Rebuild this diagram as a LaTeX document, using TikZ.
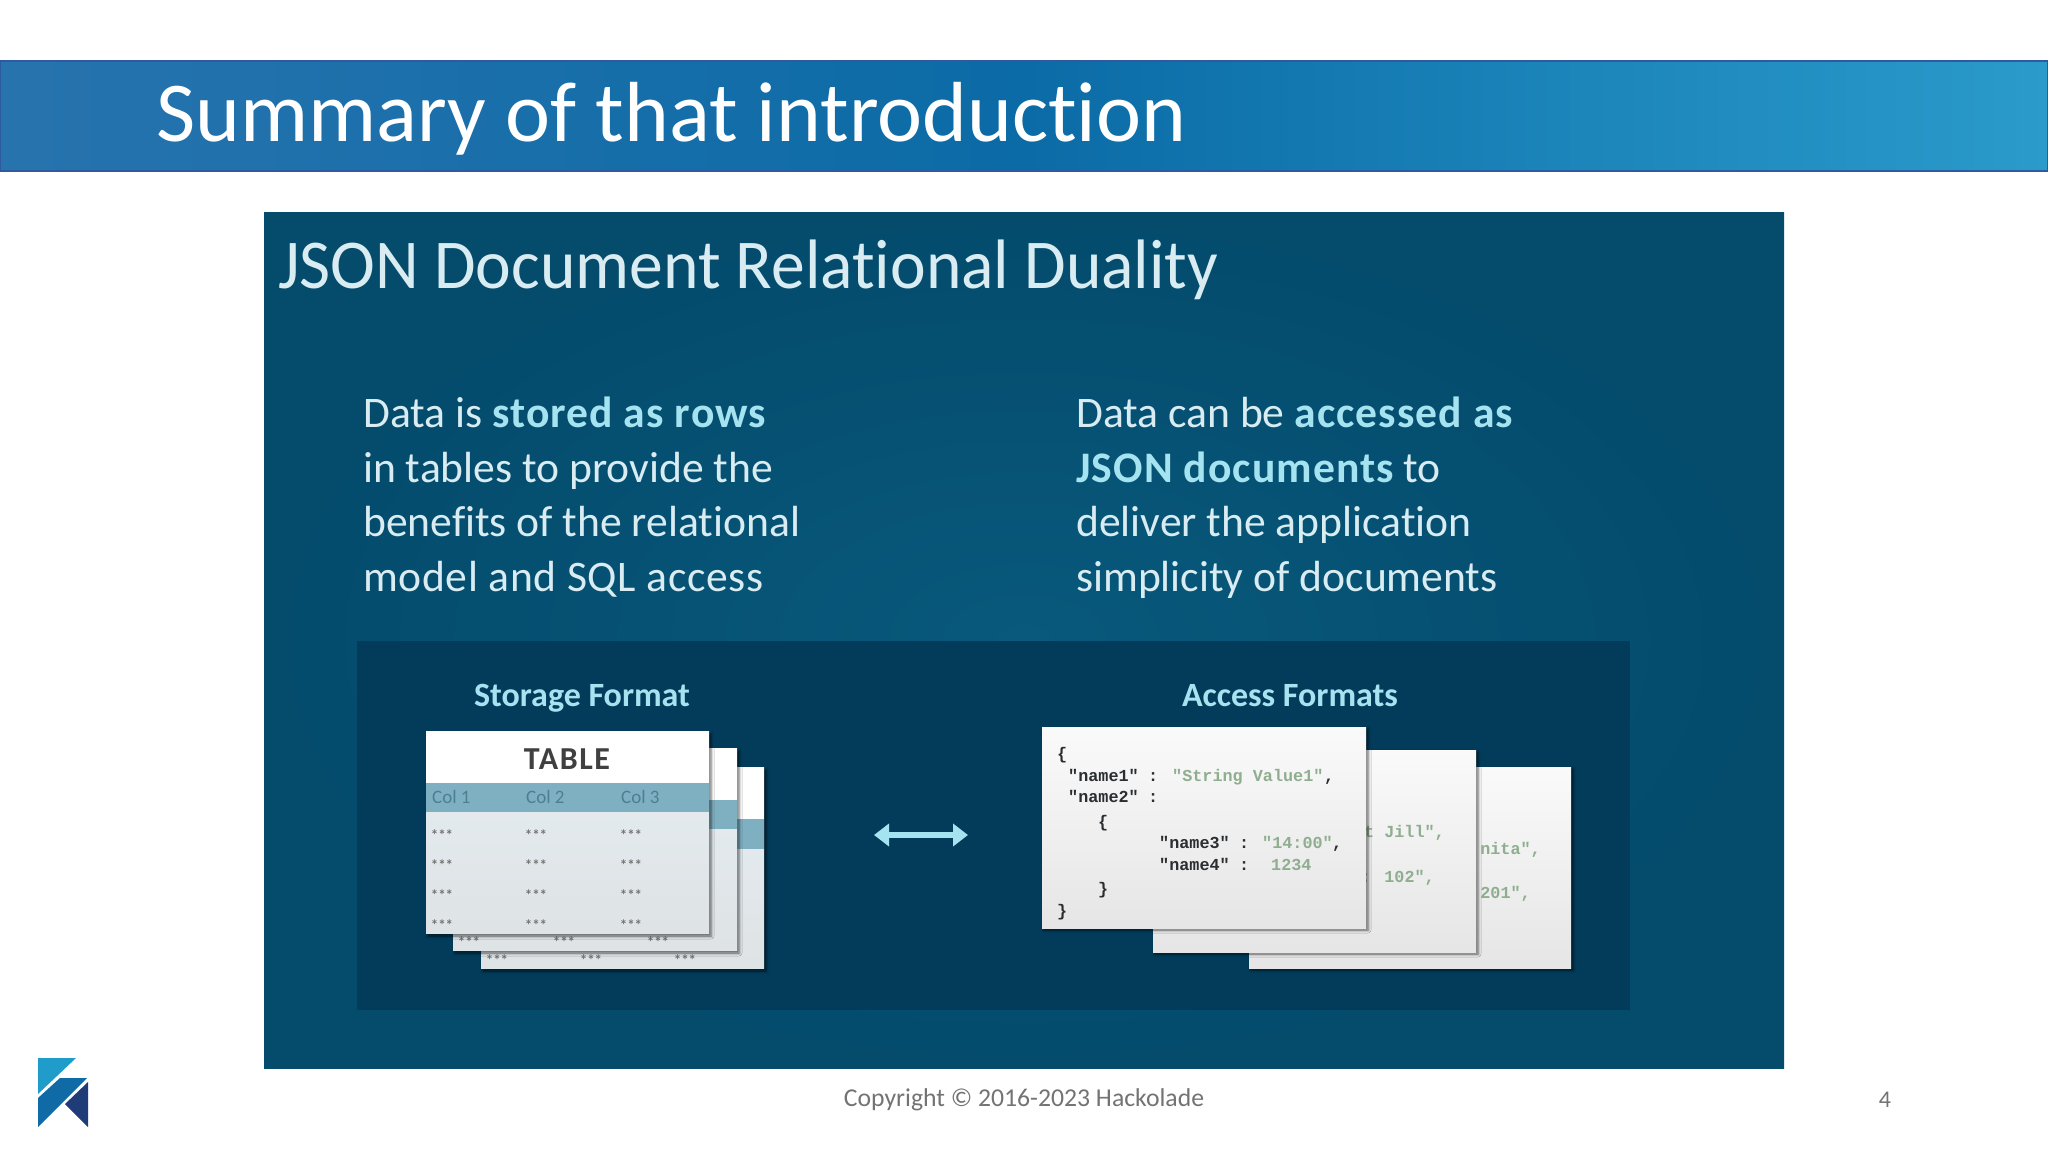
\documentclass[tikz,border=0pt]{standalone}
\usepackage{fontspec}
\setmainfont{Carlito}[Ligatures=NoCommon]
\newfontfamily\monof{Liberation Mono}
\newfontfamily\headf{Carlito}[Ligatures=NoCommon,FakeStretch=0.965]
\usetikzlibrary{arrows.meta,shadows.blur}
\definecolor{cyanT}{HTML}{A6E3F0}
\definecolor{bodyT}{HTML}{D8ECF2}
\definecolor{bandB}{HTML}{7FB0C2}
\definecolor{colT}{HTML}{4A8094}
\definecolor{codeK}{HTML}{2A2E30}
\definecolor{codeV}{HTML}{8FAE90}
\definecolor{tblTop}{HTML}{E6EEF2}
\definecolor{tblBot}{HTML}{DEE3E5}
\definecolor{banL}{HTML}{2773AE}
\definecolor{banM}{HTML}{0B6BA6}
\definecolor{banR}{HTML}{2A9BCB}
\definecolor{banE}{HTML}{2F5AA0}
\definecolor{phE}{HTML}{044B6C}
\definecolor{phC}{HTML}{08597C}
\definecolor{phD}{HTML}{033C5A}
\definecolor{lg1}{HTML}{1F9CC9}
\definecolor{lg2}{HTML}{0F6AA6}
\definecolor{lg3}{HTML}{1F3B78}
\newcommand{\hl}[1]{\textcolor{cyanT}{\bfseries\addfontfeature{LetterSpace=2.5}#1}}
\tikzset{
  x=1pt,y=-1pt,
  lbl/.style={inner sep=0pt,anchor=base west},
  body/.style={lbl,text=bodyT,font=\fontsize{43.6}{50}\selectfont},
  hd/.style={text=cyanT,inner sep=0pt,anchor=base,font=\bfseries\fontsize{34}{38}\selectfont},
  dots/.style={inner sep=0pt,yshift=-3pt,text=black!55,font=\bfseries\fontsize{15}{15}\selectfont},
  coll/.style={inner sep=0pt,anchor=base west,text=colT,font=\fontsize{19}{20}\selectfont},
  ck/.style={lbl,text=codeK,font=\monof\bfseries\fontsize{16.8}{18}\selectfont},
  cv/.style={lbl,text=codeV,font=\monof\bfseries\fontsize{16.8}{18}\selectfont},
  cvr/.style={cv,anchor=base east},
  card/.style={top color=black!2,bottom color=black!10,draw=none,blur shadow={shadow xshift=2pt,shadow yshift=-2pt,shadow blur steps=4,shadow opacity=60,shadow blur radius=3pt}},
  tblcard/.style={top color=tblTop,bottom color=tblBot,draw=none,blur shadow={shadow xshift=2pt,shadow yshift=-3pt,shadow blur steps=4,shadow opacity=60,shadow blur radius=3pt}},
}
\newcommand{\tabsheet}[6]{% x1 y1 x2 y2 bandtop bandbottom
  \fill[tblcard] (#1,#2) rectangle (#3,#4);
  \fill[white] (#1,#2) rectangle (#3,#5);
  \fill[bandB] (#1,#5) rectangle (#3,#6);
}
\begin{document}
\begin{tikzpicture}
\useasboundingbox (0,0) rectangle (2048,1152);
\fill[white] (0,0) rectangle (2048,1152);
% banner
\shade[left color=banL,right color=banR,middle color=banM] (0,61) rectangle (2048,171);
\draw[draw=banE,line width=1.5pt] (0,61) rectangle (2048,171);
\node[lbl,text=white,font=\fontsize{85.3}{90}\selectfont] (title) at (156,141) {Summary of that introduction};
% photo
\shade[inner color=phC,outer color=phE] (264,212) rectangle (1784,1068);
\fill[phD] (357,641) rectangle (1630,1010);
\node[lbl,text=bodyT,font=\headf\fontsize{70}{80}\selectfont] (h1) at (278,288) {JSON Document Relational Duality};
\node[body] (l1) at (363,427) {Data is \hl{stored as rows}};
\node[body] (l2) at (363,482) {in tables to provide the};
\node[body] (l3) at (363,536) {benefits of the relational};
\node[body,font=\fontsize{43.6}{50}\selectfont\addfontfeature{LetterSpace=1.5}] (l4) at (363,591) {model and SQL access};
\node[body] (r1) at (1076,427) {Data can be \hl{accessed as}};
\node[body] (r2) at (1076,482) {\hl{JSON documents} to};
\node[body] (r3) at (1076,536) {deliver the application};
\node[body] (r4) at (1076,591) {simplicity of documents};
\node[hd] (sf) at (582,706) {Storage Format};
\node[hd] (af) at (1290,706) {Access Formats};
% table stack
\tabsheet{481}{767}{764}{968}{819}{849}
\foreach \x in {497,591,685} \node[dots] at (\x,957) {***};
\tabsheet{453}{748}{737}{950}{800}{829}
\foreach \x in {469,564,658} \node[dots] at (\x,939) {***};
\tabsheet{426}{731}{709}{933}{783}{812}
\node[inner sep=0pt,text=black!75,font=\bfseries\fontsize{32}{33}\selectfont\addfontfeature{LetterSpace=5}] (tb) at (567,759) {TABLE};
\node[coll] (c1) at (432,803) {Col 1};
\node[coll] (c2) at (526,803) {Col 2};
\node[coll] (c3) at (621,803) {Col 3};
\foreach \y in {832,862,892,922} \foreach \x in {442,536,631} \node[dots] at (\x,\y) {***};
% arrow
\coordinate (aL) at (874,835);
\coordinate (aR) at (968,835);
\draw[cyanT,line width=6pt,{Triangle[length=15pt,width=22pt]}-{Triangle[length=15pt,width=22pt]}] (aL) -- (aR);
% json stack
\fill[card] (1249,767) rectangle (1571,968);
\node[cvr] (n1) at (1541,854) {nita",};
\node[cvr] (n2) at (1531,898) {201",};
\fill[card] (1153,750) rectangle (1476,952);
\node[cvr] (j1) at (1445,837) {t Jill",};
\node[cvr] (j2) at (1435,882) {: 102",};
\fill[card] (1042,727) rectangle (1366,928);
\node[ck] (a1) at (1057,759) {\{};
\node[ck] (a2) at (1068,781) {"name1"};
\node[ck] (a3) at (1148,781) {:};
\node[cv] (a4) at (1172,781) {"String Value1"};
\node[ck] (a4b) at (1324,781) {,};
\node[ck] (a5) at (1068,802) {"name2"};
\node[ck] (a6) at (1148,802) {:};
\node[ck] (a7) at (1098,827) {\{};
\node[ck] (a8) at (1159,848) {"name3"};
\node[ck] (a9) at (1239,848) {:};
\node[cv] (a10) at (1262,848) {"14:00"};
\node[ck] (a10b) at (1332,848) {,};
\node[ck] (a11) at (1159,870) {"name4"};
\node[ck] (a12) at (1239,870) {:};
\node[cv] (a13) at (1271,870) {1234};
\node[ck] (a14) at (1098,894) {\}};
\node[ck] (a15) at (1057,916) {\}};
% footer
\node[inner sep=0pt,text=black!55,font=\fontsize{25.7}{28}\selectfont] (cp) at (1024,1100) {Copyright © 2016-2023 Hackolade};
\node[inner sep=0pt,text=black!55,font=\fontsize{24}{26}\selectfont] (pg) at (1885,1100) {4};
% logo
\fill[lg1] (38,1058) -- (76,1058) -- (38,1094) -- cycle;
\fill[lg2] (38,1098) -- (60,1078) -- (87,1078) -- (38,1127) -- cycle;
\fill[lg3] (88,1082) -- (88,1127) -- (65,1104) -- cycle;
\end{tikzpicture}
\end{document}
